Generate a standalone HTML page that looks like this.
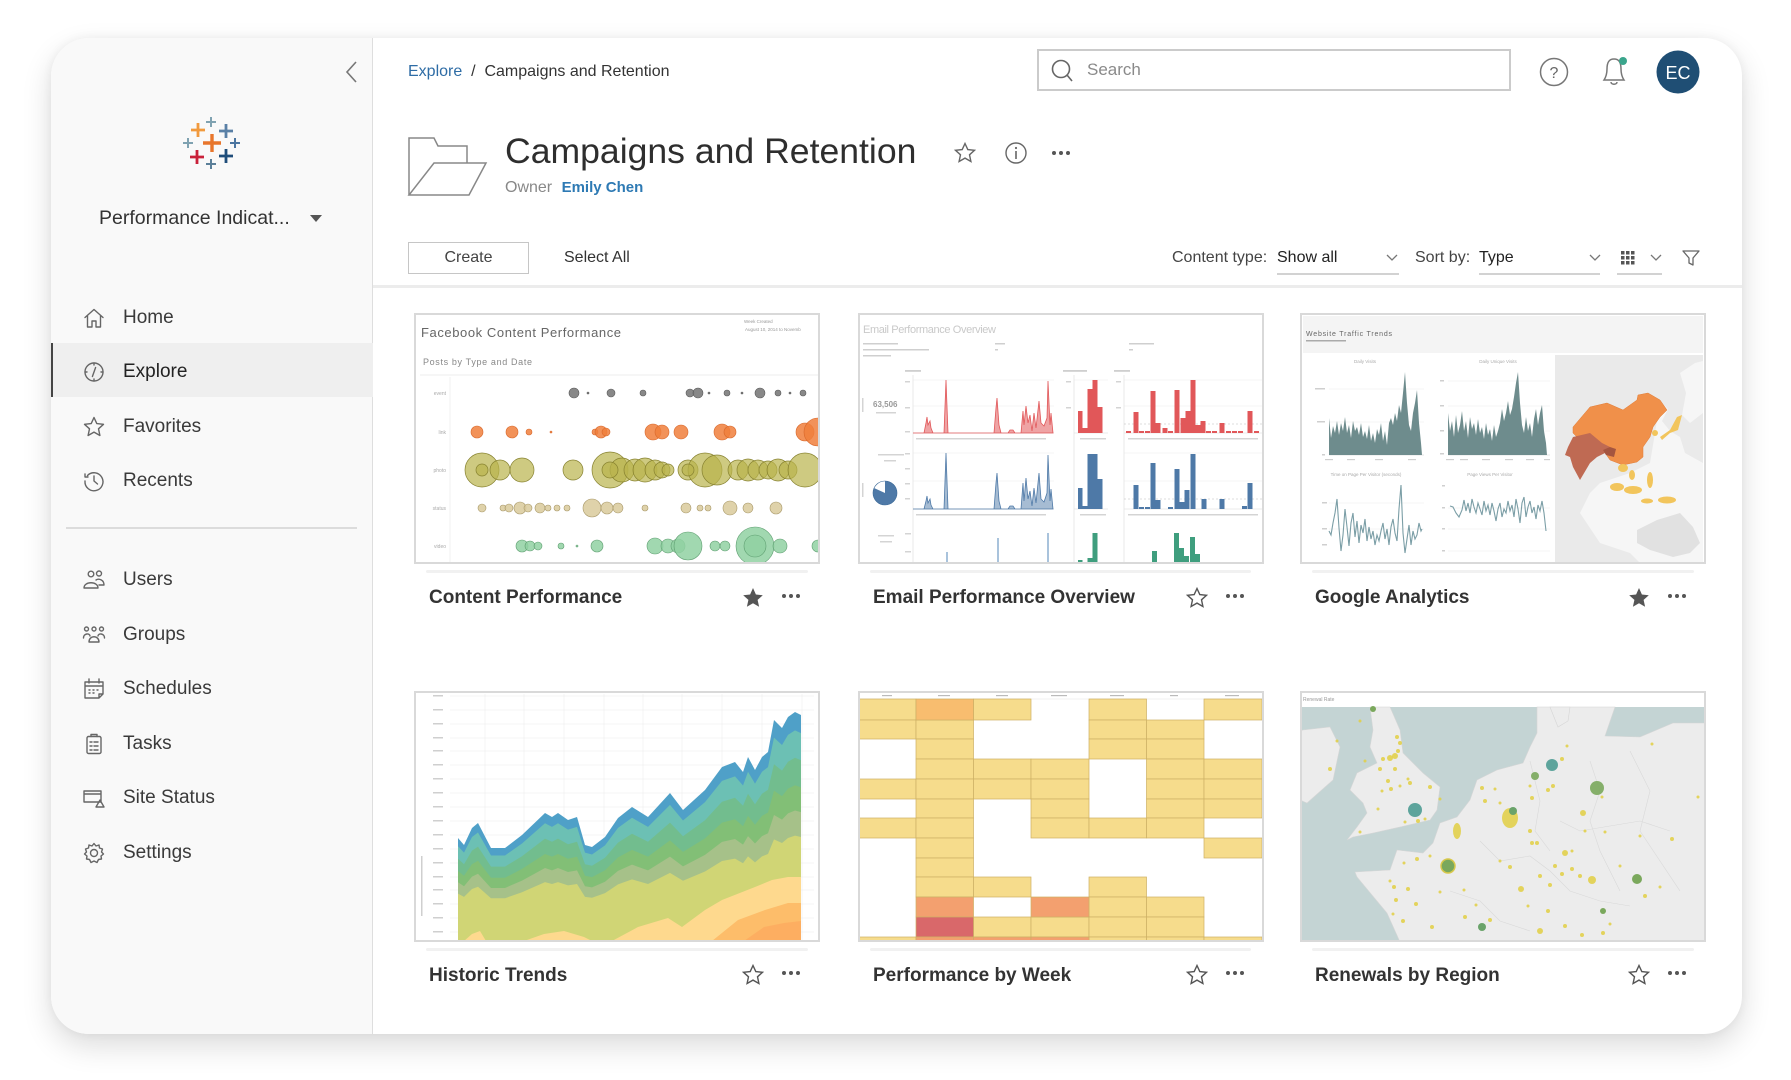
<!DOCTYPE html>
<html><head><meta charset="utf-8">
<style>
*{box-sizing:border-box;margin:0;padding:0}
body{width:1791px;height:1080px;overflow:hidden;background:#fff;font-family:"Liberation Sans",sans-serif;color:#333;position:relative}
.a{position:absolute;white-space:nowrap}
.card{position:absolute;left:51px;top:38px;width:1691px;height:996px;border-radius:38px;background:#fff;box-shadow:0 12px 30px rgba(0,0,0,.14),0 0 10px rgba(0,0,0,.05);overflow:hidden}
.nav{font-size:19px;line-height:24px;color:#3a3a3a;left:123px}
.ico{position:absolute;left:82px;width:24px;height:24px}
.ico *{fill:none;stroke:#666;stroke-width:1.4;stroke-linecap:round;stroke-linejoin:round}
.th{position:absolute;width:406px;height:251px}
.sh{position:absolute;height:3px;background:#f1f1f1;border-radius:2px}
.tt{font-size:19px;line-height:24px;font-weight:bold;color:#333}
.tb{font-size:16px;line-height:20px;color:#333}
</style></head><body>
<div class="card">
  <div style="position:absolute;left:0;top:0;width:322px;height:996px;background:#f9f9f9;border-right:1px solid #dedede"></div>
  <div style="position:absolute;left:0;top:305px;width:322px;height:54px;background:#efefef;border-left:2px solid #444"></div>
  <div style="position:absolute;left:15px;top:489px;width:291px;height:2px;background:#dcdcdc"></div>
  <div style="position:absolute;left:322px;top:247px;width:1369px;height:3px;background:#ececec"></div>
</div>

<!-- sidebar -->
<svg class="a" style="left:340px;top:58px" width="24" height="28"><polyline points="16,4 7,14 16,24" fill="none" stroke="#777" stroke-width="1.6"/></svg>
<svg class="a" style="left:183px;top:114px" width="58" height="58" viewBox="183 114 58 58">
<g stroke-linecap="butt">
<path d="M212 134v18M203 143h18" stroke="#e8762c" stroke-width="3.4"/>
<path d="M198 123v14M191 130h14" stroke="#f19a3e" stroke-width="2.8"/>
<path d="M226 124v14M219 131h14" stroke="#5a80a6" stroke-width="2.8"/>
<path d="M197 150v14M190 157h14" stroke="#c9213a" stroke-width="2.8"/>
<path d="M226 149v14M219 156h14" stroke="#1f4d7a" stroke-width="2.8"/>
<path d="M211 117v10M206 122h10" stroke="#7fa2b1" stroke-width="2"/>
<path d="M188 138v10M183 143h10" stroke="#7fa2b1" stroke-width="2"/>
<path d="M235 138v10M230 143h10" stroke="#4b75a0" stroke-width="2"/>
<path d="M211 159v10M206 164h10" stroke="#5b7f99" stroke-width="2"/>
</g></svg>
<div class="a" style="left:99px;top:206px;font-size:19.5px;line-height:24px;color:#333">Performance Indicat...</div>
<svg class="a" style="left:309px;top:214px" width="14" height="10"><polygon points="1,1 13,1 7,8" fill="#555"/></svg>

<svg class="ico" style="top:306px" viewBox="0 0 24 24"><path d="M3 11.5 L12 3.5 L21 11.5 M5.5 9.5 V21 H10 V15 H14 V21 H18.5 V9.5"/></svg>
<div class="a nav" style="top:306px">Home</div>
<svg class="ico" style="top:360px" viewBox="0 0 24 24"><circle cx="12" cy="12" r="9"/><path d="M13.6 7.5 L10.4 16.5 M12 3v2M12 19v2M3 12h2M19 12h2"/></svg>
<div class="a nav" style="top:360px;color:#222">Explore</div>
<svg class="ico" style="top:415px" viewBox="0 0 24 24"><polygon points="12,2.5 14.8,8.6 21.5,9.3 16.5,13.8 17.9,20.5 12,17.1 6.1,20.5 7.5,13.8 2.5,9.3 9.2,8.6"/></svg>
<div class="a nav" style="top:415px">Favorites</div>
<svg class="ico" style="top:469px" viewBox="0 0 24 24"><path d="M5.5 6.5 A9 9 0 1 1 3 12 M3 5 V8 H6 M12 7 V12 L15.5 15"/></svg>
<div class="a nav" style="top:469px">Recents</div>

<svg class="ico" style="top:568px" viewBox="0 0 24 24"><circle cx="9" cy="6" r="2.8"/><circle cx="17" cy="5.5" r="2.5"/><path d="M2 20 C2 13 16 13 16 20 Z M14 12 C17 10 22 12 22 17 H17"/></svg>
<div class="a nav" style="top:568px">Users</div>
<svg class="ico" style="top:623px" viewBox="0 0 24 24"><circle cx="4.5" cy="6" r="2"/><circle cx="12" cy="6" r="2"/><circle cx="19.5" cy="6" r="2"/><path d="M1.5 15 C1.5 10 8 10 8 13 M22.5 15 C22.5 10 16 10 16 13 M7 19 C7 12 17 12 17 19 Z"/></svg>
<div class="a nav" style="top:623px">Groups</div>
<svg class="ico" style="top:677px" viewBox="0 0 24 24"><path d="M3 5 H21 V17 L17 21 H3 Z M3 9 H21 M7 2 V6 M17 2 V6 M21 17 H17 V21"/><path d="M7 13h1M11 13h1M15 13h1M7 16h1M11 16h1" stroke-width="1.2"/></svg>
<div class="a nav" style="top:677px">Schedules</div>
<svg class="ico" style="top:732px" viewBox="0 0 24 24"><rect x="5" y="4.5" width="14" height="17" rx="1.5"/><path d="M9 4.5 V2.5 H15 V4.5 M8 10h2M12 10h4M8 14h2M12 14h4M8 18h2M12 18h4"/></svg>
<div class="a nav" style="top:732px">Tasks</div>
<svg class="ico" style="top:786px" viewBox="0 0 24 24"><path d="M2 5 H19 V16 H2 Z M2 8 H19 M18 14 L22 21 H14 Z"/></svg>
<div class="a nav" style="top:786px">Site Status</div>
<svg class="ico" style="top:841px" viewBox="0 0 24 24"><circle cx="12" cy="12" r="3.5"/><path d="M12 2.5 L14 5 L17 4 L17.5 7 L20.5 8 L19.5 11 L21.5 13 L19 15 L19.5 18 L16.5 18.5 L15 21.5 L12 20 L9 21.5 L7.5 18.5 L4.5 18 L5 15 L2.5 13 L4.5 11 L3.5 8 L6.5 7 L7 4 L10 5 Z"/></svg>
<div class="a nav" style="top:841px">Settings</div>

<!-- header -->
<div class="a" style="left:408px;top:62px;font-size:16px;line-height:20px;color:#333"><span style="color:#2e6ca5">Explore</span>&nbsp; / &nbsp;Campaigns and Retention</div>
<div class="a" style="left:1037px;top:49px;width:474px;height:42px;border:2px solid #cbcbcb;background:#fff"></div>
<svg class="a" style="left:1050px;top:58px" width="26" height="28"><circle cx="11" cy="11" r="8.5" fill="none" stroke="#666" stroke-width="1.6"/><line x1="17" y1="17" x2="22" y2="23" stroke="#666" stroke-width="1.6"/></svg>
<div class="a" style="left:1087px;top:60px;font-size:17px;line-height:20px;color:#8a8a8a">Search</div>
<svg class="a" style="left:1538px;top:56px" width="32" height="32"><circle cx="16" cy="16" r="13.5" fill="none" stroke="#777" stroke-width="1.5"/><text x="16" y="22" font-size="16" text-anchor="middle" fill="#666" font-family="Liberation Sans">?</text></svg>
<svg class="a" style="left:1598px;top:54px" width="32" height="34"><path d="M16 5 C10 5 9 10 9 15 C9 20 8 23 6 26 H26 C24 23 23 20 23 15 C23 10 22 5 16 5 Z M13 28 C13 31 19 31 19 28" fill="none" stroke="#777" stroke-width="1.5"/><circle cx="25" cy="7" r="4" fill="#3aa58c"/></svg>
<svg class="a" style="left:1656px;top:50px" width="44" height="44"><circle cx="22" cy="22" r="21.5" fill="#1f4e74"/><text x="22" y="29" font-size="18" text-anchor="middle" fill="#fff" font-family="Liberation Sans">EC</text></svg>

<svg class="a" style="left:405px;top:134px" width="86" height="66"><path d="M4 61 V4 H29 L33 12 H62 V30" fill="none" stroke="#888" stroke-width="1.5"/><polygon points="29,29 81,29 64,61 4,61" fill="#fff" stroke="#888" stroke-width="1.5"/></svg>
<div class="a" style="left:505px;top:131px;font-size:35.6px;line-height:40px;color:#2e2e2e">Campaigns and Retention</div>
<svg class="a" style="left:953px;top:141px" width="24" height="24"><polygon points="12,2.5 14.8,8.6 21.5,9.3 16.5,13.8 17.9,20.5 12,17.1 6.1,20.5 7.5,13.8 2.5,9.3 9.2,8.6" fill="none" stroke="#666" stroke-width="1.4"/></svg>
<svg class="a" style="left:1004px;top:141px" width="24" height="24"><circle cx="12" cy="12" r="10" fill="none" stroke="#666" stroke-width="1.4"/><line x1="12" y1="10" x2="12" y2="18" stroke="#666" stroke-width="1.6"/><circle cx="12" cy="7" r="1.1" fill="#666"/></svg>
<svg class="a" style="left:1050px;top:147px" width="24" height="12"><circle cx="4" cy="6" r="2" fill="#555"/><circle cx="11" cy="6" r="2" fill="#555"/><circle cx="18" cy="6" r="2" fill="#555"/></svg>
<div class="a" style="left:505px;top:178px;font-size:16px;line-height:20px;color:#888">Owner <span style="color:#2e7ab4;font-weight:bold;font-size:15px;margin-left:5px">Emily Chen</span></div>

<div class="a" style="left:408px;top:242px;width:121px;height:32px;border:1.5px solid #c6c6c6;background:#fff;text-align:center;font-size:16px;line-height:29px;color:#444">Create</div>
<div class="a tb" style="left:564px;top:248px">Select All</div>
<div class="a tb" style="left:1172px;top:248px;color:#444">Content type:</div>
<div class="a tb" style="left:1277px;top:248px;color:#222">Show all</div>
<svg class="a" style="left:1386px;top:253px" width="12" height="10"><polyline points="1,2 6,7 11,2" fill="none" stroke="#777" stroke-width="1.3"/></svg>
<div class="a" style="left:1277px;top:273px;width:122px;height:2px;background:#d2d2d2"></div>
<div class="a tb" style="left:1415px;top:248px;color:#444">Sort by:</div>
<div class="a tb" style="left:1479px;top:248px;color:#222">Type</div>
<svg class="a" style="left:1589px;top:253px" width="12" height="10"><polyline points="1,2 6,7 11,2" fill="none" stroke="#777" stroke-width="1.3"/></svg>
<div class="a" style="left:1479px;top:273px;width:121px;height:2px;background:#d2d2d2"></div>
<svg class="a" style="left:1621px;top:251px" width="14" height="14"><g fill="#555"><rect x="0" y="0" width="3.5" height="3.5"/><rect x="5" y="0" width="3.5" height="3.5"/><rect x="10" y="0" width="3.5" height="3.5"/><rect x="0" y="5" width="3.5" height="3.5"/><rect x="5" y="5" width="3.5" height="3.5"/><rect x="10" y="5" width="3.5" height="3.5"/><rect x="0" y="10" width="3.5" height="3.5"/><rect x="5" y="10" width="3.5" height="3.5"/><rect x="10" y="10" width="3.5" height="3.5"/></g></svg>
<svg class="a" style="left:1650px;top:253px" width="12" height="10"><polyline points="1,2 6,7 11,2" fill="none" stroke="#777" stroke-width="1.3"/></svg>
<div class="a" style="left:1617px;top:273px;width:45px;height:2px;background:#d2d2d2"></div>
<svg class="a" style="left:1682px;top:249px" width="18" height="18"><polygon points="1,2 17,2 11,9 11,16 7,14 7,9" fill="none" stroke="#666" stroke-width="1.3" stroke-linejoin="round"/></svg>

<!-- shadows under thumbnails -->
<div class="sh" style="left:426px;top:570px;width:382px"></div>
<div class="sh" style="left:870px;top:570px;width:381px"></div>
<div class="sh" style="left:1312px;top:570px;width:382px"></div>
<div class="sh" style="left:426px;top:948px;width:382px"></div>
<div class="sh" style="left:870px;top:948px;width:381px"></div>
<div class="sh" style="left:1312px;top:948px;width:382px"></div>

<!-- THUMB 1 -->
<svg class="th" style="left:414px;top:313px" viewBox="0 0 406 251" font-family="Liberation Sans">
<rect width="406" height="251" fill="#fff"/>
<text x="7" y="24" font-size="13" fill="#666" textLength="200">Facebook Content Performance</text>
<text x="330" y="10" font-size="4.5" fill="#999">Week Created</text>
<text x="331" y="18" font-size="4.5" fill="#999">August 10, 2014 to Novemb</text>
<text x="9" y="52" font-size="9" fill="#888" textLength="109">Posts by Type and Date</text>
<line x1="6" y1="62" x2="404" y2="62" stroke="#eee"/>
<line x1="36" y1="64" x2="36" y2="251" stroke="#f0f0f0"/>
<g font-size="5" fill="#aaa" text-anchor="end"><text x="32" y="82">event</text><text x="32" y="121">link</text><text x="32" y="159">photo</text><text x="32" y="197">status</text><text x="32" y="235">video</text></g>
<g fill="#7b7b7b" fill-opacity=".9" stroke="#5a5a5a" stroke-width=".6">
<circle cx="160" cy="80" r="5"/><circle cx="174" cy="80" r="1"/><circle cx="197" cy="80" r="4"/><circle cx="229" cy="80" r="3"/><circle cx="276" cy="80" r="4"/><circle cx="284" cy="80" r="5"/><circle cx="295" cy="80" r="1"/><circle cx="313" cy="80" r="3"/><circle cx="328" cy="80" r="1"/><circle cx="346" cy="80" r="5"/><circle cx="364" cy="80" r="3"/><circle cx="376" cy="80" r="1"/><circle cx="389" cy="80" r="3"/></g>
<g fill="#f07f3c" fill-opacity=".85" stroke="#d8672a" stroke-width=".6">
<circle cx="63" cy="119" r="6"/><circle cx="98" cy="119" r="6"/><circle cx="115" cy="119" r="3"/><circle cx="137" cy="119" r="1"/><circle cx="181" cy="119" r="3"/><circle cx="187" cy="119" r="6"/><circle cx="192" cy="119" r="4"/><circle cx="239" cy="119" r="8"/><circle cx="248" cy="119" r="7"/><circle cx="267" cy="119" r="7"/><circle cx="308" cy="119" r="8"/><circle cx="316" cy="119" r="6"/><circle cx="391" cy="119" r="9"/><circle cx="404" cy="119" r="14"/></g>
<g fill="#b9b34c" fill-opacity=".7" stroke="#878230" stroke-width=".7">
<circle cx="68" cy="157" r="17"/><circle cx="86" cy="157" r="10"/><circle cx="108" cy="157" r="12"/><circle cx="159" cy="157" r="10"/><circle cx="196" cy="157" r="18"/><circle cx="208" cy="157" r="12"/><circle cx="221" cy="157" r="11"/><circle cx="231" cy="157" r="12"/><circle cx="241" cy="157" r="10"/><circle cx="248" cy="157" r="8"/><circle cx="254" cy="157" r="6"/><circle cx="274" cy="157" r="10"/><circle cx="291" cy="157" r="17"/><circle cx="303" cy="157" r="15"/><circle cx="324" cy="157" r="10"/><circle cx="334" cy="157" r="11"/><circle cx="344" cy="157" r="10"/><circle cx="354" cy="157" r="9"/><circle cx="364" cy="157" r="11"/><circle cx="374" cy="157" r="9"/><circle cx="391" cy="157" r="17"/><circle cx="68" cy="157" r="6"/><circle cx="196" cy="157" r="8"/><circle cx="274" cy="157" r="6"/></g>
<g fill="#d9ca9b" fill-opacity=".85" stroke="#a89868" stroke-width=".6">
<circle cx="68" cy="195" r="4"/><circle cx="89" cy="195" r="3"/><circle cx="95" cy="195" r="4"/><circle cx="106" cy="195" r="6"/><circle cx="114" cy="195" r="4"/><circle cx="126" cy="195" r="5"/><circle cx="134" cy="195" r="3"/><circle cx="143" cy="195" r="3"/><circle cx="153" cy="195" r="3"/><circle cx="178" cy="195" r="9"/><circle cx="193" cy="195" r="6"/><circle cx="204" cy="195" r="5"/><circle cx="231" cy="195" r="3"/><circle cx="272" cy="195" r="5"/><circle cx="286" cy="195" r="3"/><circle cx="294" cy="195" r="3"/><circle cx="316" cy="195" r="7"/><circle cx="334" cy="195" r="5"/><circle cx="362" cy="195" r="6"/></g>
<g fill="#91d1a2" fill-opacity=".85" stroke="#5e9e70" stroke-width=".6">
<circle cx="108" cy="233" r="6"/><circle cx="116" cy="233" r="5"/><circle cx="124" cy="233" r="4"/><circle cx="147" cy="233" r="3"/><circle cx="163" cy="233" r="1"/><circle cx="183" cy="233" r="6"/><circle cx="241" cy="233" r="8"/><circle cx="254" cy="233" r="7"/><circle cx="264" cy="233" r="7"/><circle cx="274" cy="233" r="14"/><circle cx="301" cy="233" r="5"/><circle cx="311" cy="233" r="5"/><circle cx="341" cy="233" r="19"/><circle cx="341" cy="233" r="11"/><circle cx="366" cy="233" r="7"/><circle cx="404" cy="233" r="6"/></g>
<rect x="1" y="1" width="404" height="249" fill="none" stroke="#d9d9d9" stroke-width="2"/>
</svg>

<!-- THUMB 2 -->
<svg class="th" style="left:858px;top:313px" viewBox="0 0 406 251" font-family="Liberation Sans">
<rect width="406" height="251" fill="#fff"/>
<text x="5" y="20" font-size="11" fill="#c9c9c9" textLength="133">Email Performance Overview</text>
<g fill="#cfcfcf"><rect x="5" y="30" width="35" height="1.5"/><rect x="5" y="36" width="66" height="1.5"/><rect x="5" y="42" width="28" height="1.5"/><rect x="137" y="30" width="10" height="1.5"/><rect x="137" y="36" width="3" height="1.5"/><rect x="271" y="30" width="25" height="1.5"/><rect x="271" y="36" width="4" height="1.5"/>
<rect x="47" y="57" width="16" height="1.8"/><rect x="205" y="57" width="24" height="1.8"/><rect x="256" y="57" width="16" height="1.8"/></g>
<g stroke="#f0f0f0" stroke-width=".7"><line x1="55" y1="67" x2="196" y2="67"/><line x1="55" y1="93" x2="196" y2="93"/><line x1="216" y1="67" x2="250" y2="67"/><line x1="266" y1="67" x2="404" y2="67"/><line x1="266" y1="93" x2="404" y2="93"/>
<line x1="55" y1="140" x2="196" y2="140"/><line x1="55" y1="168" x2="196" y2="168"/><line x1="266" y1="140" x2="404" y2="140"/><line x1="266" y1="168" x2="404" y2="168"/></g>
<g stroke="#e4e4e4" stroke-width=".8"><line x1="55" y1="120" x2="196" y2="120"/><line x1="216" y1="120" x2="250" y2="120"/><line x1="266" y1="120" x2="404" y2="120"/><line x1="55" y1="196" x2="196" y2="196"/><line x1="216" y1="196" x2="250" y2="196"/><line x1="266" y1="196" x2="404" y2="196"/><line x1="55" y1="62" x2="55" y2="251"/><line x1="216" y1="62" x2="216" y2="251"/><line x1="266" y1="62" x2="266" y2="251"/></g>
<g fill="#d4d4d4"><rect x="47" y="68" width="5" height="1.5"/><rect x="47" y="94" width="5" height="1.5"/><rect x="47" y="118" width="5" height="1.5"/><rect x="208" y="68" width="5" height="1.5"/><rect x="208" y="94" width="5" height="1.5"/><rect x="258" y="68" width="5" height="1.5"/><rect x="258" y="94" width="5" height="1.5"/>
<rect x="58" y="125" width="130" height="1.5"/><rect x="222" y="125" width="26" height="1.5"/><rect x="270" y="125" width="130" height="1.5"/>
<rect x="58" y="201" width="130" height="1.5"/><rect x="222" y="201" width="26" height="1.5"/><rect x="270" y="201" width="130" height="1.5"/>
<rect x="47" y="140" width="5" height="1.5"/><rect x="47" y="155" width="5" height="1.5"/><rect x="47" y="170" width="5" height="1.5"/><rect x="47" y="185" width="5" height="1.5"/><rect x="47" y="220" width="6" height="1.5"/><rect x="47" y="238" width="6" height="1.5"/>
<rect x="20" y="141" width="26" height="1.5"/><rect x="26" y="147" width="12" height="1.5"/><rect x="20" y="222" width="16" height="1.5"/><rect x="22" y="228" width="12" height="1.5"/><rect x="18" y="99" width="20" height="1.5"/><rect x="4" y="85" width="1.5" height="14"/><rect x="4" y="170" width="1.5" height="14"/></g>
<text x="15" y="94" font-size="8" fill="#999" font-weight="bold">63,506</text>
<path d="M55 120 H66 L68 110 L69 104 L70 112 L72 108 L73 115 L75 120 H86 L88 67 L90 120 H136 L138 95 L139 85 L141 112 L143 120 H150 L152 117 L155 117 L157 120 H163 L165 98 L166 112 L168 93 L170 110 L172 102 L174 118 L176 100 L178 115 L181 88 L183 110 L186 113 L189 105 L190 68 L192 112 L193 100 L195 120 Z" fill="#e15759" fill-opacity=".55" stroke="#e15759" stroke-width=".8"/>
<path d="M55 196 H66 L68 188 L69 183 L70 190 L72 186 L73 192 L75 196 H86 L88 140 L90 196 H136 L138 170 L139 160 L141 188 L143 196 H150 L152 193 L155 193 L157 196 H163 L165 170 L166 188 L168 165 L170 186 L172 178 L174 193 L176 175 L178 190 L181 160 L183 186 L186 189 L189 180 L190 142 L192 188 L193 176 L195 196 Z" fill="#4e79a7" fill-opacity=".5" stroke="#4e79a7" stroke-width=".8"/>
<line x1="266" y1="111" x2="404" y2="111" stroke="#bbb" stroke-width=".6" stroke-dasharray="2,2"/>
<line x1="266" y1="186" x2="404" y2="186" stroke="#bbb" stroke-width=".6" stroke-dasharray="2,2"/>
<g fill="#e15759"><rect x="220" y="98" width="4.5" height="22"/><rect x="224.5" y="115" width="5" height="5"/><rect x="229.5" y="76" width="5" height="44"/><rect x="234.5" y="67" width="5" height="53"/><rect x="239.5" y="94" width="5" height="26"/>
<rect x="275.5" y="99" width="5" height="21"/><rect x="292.5" y="78" width="5" height="42"/><rect x="297.5" y="110" width="5" height="10"/><rect x="304.5" y="115" width="5" height="5"/><rect x="316.5" y="77" width="5" height="43"/><rect x="322.5" y="105" width="5" height="15"/><rect x="327.5" y="98" width="5" height="22"/><rect x="332.5" y="67" width="5" height="53"/><rect x="337.5" y="112" width="5" height="8"/><rect x="342.5" y="108" width="5" height="12"/><rect x="361.5" y="110" width="5" height="10"/><rect x="389.5" y="98" width="5" height="22"/>
<rect x="268" y="118" width="5" height="2"/><rect x="281" y="118" width="5" height="2"/><rect x="287" y="118" width="5" height="2"/><rect x="310" y="118" width="5" height="2"/><rect x="348" y="118" width="5" height="2"/><rect x="354" y="118" width="5" height="2"/><rect x="368" y="118" width="5" height="2"/><rect x="374" y="118" width="5" height="2"/><rect x="380" y="118" width="5" height="2"/><rect x="396" y="118" width="5" height="2"/></g>
<g fill="#4e79a7"><rect x="220" y="175" width="4.5" height="21"/><rect x="224.5" y="193" width="5" height="3"/><rect x="229.5" y="141" width="5" height="55"/><rect x="234.5" y="141" width="5" height="55"/><rect x="239.5" y="166" width="5" height="30"/>
<rect x="275.5" y="172" width="5" height="24"/><rect x="292.5" y="150" width="5" height="46"/><rect x="297.5" y="187" width="5" height="9"/><rect x="316.5" y="156" width="5" height="40"/><rect x="321.5" y="189" width="5" height="7"/><rect x="326.5" y="177" width="5" height="19"/><rect x="332.5" y="141" width="5" height="55"/><rect x="343.5" y="186" width="5" height="10"/><rect x="361.5" y="186" width="5" height="10"/><rect x="389.5" y="170" width="5" height="26"/>
<rect x="281" y="194" width="5" height="2"/><rect x="287" y="194" width="5" height="2"/><rect x="310" y="194" width="5" height="2"/><rect x="384" y="193" width="5" height="3"/></g>
<circle cx="27" cy="180" r="12" fill="#4e79a7"/><path d="M27 180 L27 168 A12 12 0 0 0 16 175 Z" fill="#fff"/><circle cx="27" cy="180" r="12" fill="none" stroke="#3d6a98" stroke-width=".6"/>
<g fill="#a9c3dc"><rect x="88" y="239" width="2" height="12"/><rect x="139" y="225" width="2" height="26"/><rect x="189" y="220" width="2" height="31"/><rect x="28" y="249" width="6" height="2"/></g>
<g fill="#3f9e7e"><rect x="220" y="247" width="4.5" height="4"/><rect x="229.5" y="245" width="5" height="6"/><rect x="234.5" y="220" width="5" height="31"/>
<rect x="294" y="238" width="5" height="13"/><rect x="316" y="220" width="5" height="31"/><rect x="321" y="235" width="5" height="16"/><rect x="326" y="243" width="5" height="8"/><rect x="332" y="224" width="5" height="27"/><rect x="337" y="241" width="5" height="10"/></g>
<rect x="1" y="1" width="404" height="249" fill="none" stroke="#d9d9d9" stroke-width="2"/>
</svg>

<!-- THUMB 3 -->
<svg class="th" style="left:1300px;top:313px" viewBox="0 0 406 251" font-family="Liberation Sans">
<rect width="406" height="251" fill="#fff"/>
<rect x="3" y="3" width="400" height="37" fill="#f4f4f4"/>
<text x="6" y="23" font-size="7" fill="#666" textLength="86">Website Traffic Trends</text>
<rect x="6" y="27" width="40" height="1.5" fill="#aaa"/>
<g font-size="4.5" fill="#aaa" text-anchor="middle"><text x="65" y="50">Daily Visits</text><text x="198" y="50">Daily Unique Visits</text><text x="66" y="163">Time on Page Per Visitor (seconds)</text><text x="190" y="163">Page Views Per Visitor</text></g>
<g stroke="#f0f0f0" stroke-width=".7"><line x1="29" y1="76" x2="124" y2="76"/><line x1="29" y1="109" x2="124" y2="109"/><line x1="148" y1="68" x2="250" y2="68"/><line x1="148" y1="93" x2="250" y2="93"/><line x1="148" y1="118" x2="250" y2="118"/><line x1="29" y1="190" x2="124" y2="190"/><line x1="29" y1="216" x2="124" y2="216"/><line x1="148" y1="195" x2="250" y2="195"/><line x1="148" y1="216" x2="250" y2="216"/><line x1="148" y1="238" x2="250" y2="238"/></g>
<g fill="#cfcfcf"><rect x="15" y="75" width="10" height="1.5"/><rect x="17" y="108" width="8" height="1.5"/><rect x="22" y="141" width="3" height="1.5"/><rect x="140" y="67" width="4" height="1.5"/><rect x="140" y="92" width="4" height="1.5"/><rect x="140" y="117" width="4" height="1.5"/><rect x="140" y="140" width="4" height="1.5"/>
<rect x="22" y="189" width="5" height="1.5"/><rect x="22" y="215" width="5" height="1.5"/><rect x="22" y="231" width="5" height="1.5"/><rect x="142" y="172" width="3" height="1.5"/><rect x="142" y="194" width="3" height="1.5"/><rect x="142" y="215" width="3" height="1.5"/><rect x="142" y="237" width="3" height="1.5"/>
<rect x="25" y="146" width="8" height="1.2"/><rect x="47" y="146" width="8" height="1.2"/><rect x="75" y="146" width="8" height="1.2"/><rect x="108" y="146" width="8" height="1.2"/><rect x="146" y="146" width="8" height="1.2"/><rect x="160" y="146" width="8" height="1.2"/><rect x="182" y="146" width="8" height="1.2"/><rect x="205" y="146" width="8" height="1.2"/><rect x="226" y="146" width="8" height="1.2"/><rect x="244" y="146" width="6" height="1.2"/></g>
<line x1="29" y1="142" x2="124" y2="142" stroke="#ccc" stroke-width=".6"/><line x1="148" y1="142" x2="250" y2="142" stroke="#ccc" stroke-width=".6"/>
<path d="M29,142 L29,105 L31,125 L33,113 L35,120 L37,108 L39,122 L41,110 L43,118 L45,104 L47,120 L49,112 L51,125 L53,108 L55,118 L57,114 L59,122 L61,110 L63,124 L65,118 L67,126 L69,112 L71,128 L73,120 L75,130 L77,116 L79,122 L81,110 L83,128 L85,118 L87,132 L89,110 L91,105 L93,112 L95,100 L97,108 L99,92 L101,100 L103,80 L105,59 L107,90 L109,112 L111,118 L113,100 L115,90 L117,77 L119,110 L121,130 L122,142 Z" fill="#6e8c8d"/>
<path d="M148,142 L148,100 L150,118 L152,108 L154,124 L156,102 L158,120 L160,112 L162,98 L164,118 L166,108 L168,125 L170,104 L172,116 L174,110 L176,122 L178,106 L180,120 L182,114 L184,126 L186,110 L188,122 L190,116 L192,128 L194,112 L196,124 L198,118 L200,110 L202,96 L204,108 L206,100 L208,88 L210,102 L212,96 L214,84 L216,70 L218,59 L220,90 L222,112 L224,120 L226,104 L228,118 L230,110 L232,124 L234,106 L236,96 L238,112 L240,100 L242,92 L244,118 L246,130 L247,142 Z" fill="#6e8c8d"/>
<polyline points="29,218 31,222 33,210 35,200 37,186 39,215 41,238 43,222 45,196 47,214 49,233 51,210 53,200 55,224 57,208 59,230 61,212 63,220 65,206 67,228 69,214 71,226 73,218 75,232 77,222 79,228 81,218 83,210 85,226 87,216 89,232 91,214 93,206 95,220 97,228 99,196 101,172 103,220 105,240 107,226 109,212 111,232 113,218 115,226 117,222 119,210 121,218 122,216" fill="none" stroke="#7b9ea6" stroke-width="1.1"/>
<polyline points="150,193 153,194 156,200 159,204 162,197 164,187 166,198 168,190 170,200 172,186 174,194 176,200 178,190 180,196 182,202 184,188 186,198 188,192 190,202 192,190 194,198 196,208 198,196 200,190 202,204 204,196 206,200 208,188 210,198 212,192 214,204 216,186 218,196 220,210 222,190 224,184 226,204 228,194 230,188 232,200 234,194 236,206 238,192 240,198 242,188 244,200 246,218" fill="none" stroke="#7b9ea6" stroke-width="1.1"/>
<rect x="255" y="42" width="148" height="208" fill="#eaeaea"/>
<path d="M360 88 L368 96 L362 108 L370 118 L380 124 L385 140 L403 150 L403 250 L340 250 L330 240 L300 230 L280 200 L290 180 L300 170 L330 160 L350 150 L355 120 Z" fill="#f6f6f6"/>
<path d="M380 60 L395 50 L403 48 L403 100 L390 110 L382 102 L386 80 Z" fill="#f6f6f6"/>
<polygon points="337,217 357,207 380,200 393,214 400,230 390,240 373,244 350,237 337,230" fill="#e1e1e1"/>
<polygon points="273,114 290,94 307,90 323,97 337,87 338,82 348,80 360,87 367,97 360,104 353,114 350,124 343,134 343,144 337,149 323,152 310,147 303,137 290,134 280,127 273,120" fill="#f0904a" stroke="#e07c36" stroke-width=".5"/>
<polygon points="273,124 290,120 302,130 310,134 305,140 297,144 290,150 280,167 273,154 270,144 265,142 268,134" fill="#bf6a53"/>
<polygon points="303,137 310,134 316,136 314,144 306,142" fill="#a5553f"/>
<g fill="#f2c55c"><polygon points="377,104 382,102 378,117 370,120 362,127 360,124 370,117"/><ellipse cx="323" cy="155" rx="5" ry="4"/><ellipse cx="317" cy="174" rx="7" ry="4"/><ellipse cx="333" cy="177" rx="9" ry="4"/><ellipse cx="350" cy="167" rx="3" ry="8"/><ellipse cx="367" cy="187" rx="9" ry="3.5"/><ellipse cx="347" cy="188" rx="6" ry="2.5"/><ellipse cx="355" cy="120" rx="3" ry="3"/><ellipse cx="332" cy="162" rx="3" ry="5"/></g>
<rect x="1" y="1" width="404" height="249" fill="none" stroke="#d9d9d9" stroke-width="2"/>
</svg>

<!-- THUMB 4 -->
<svg class="th" style="left:414px;top:691px" viewBox="0 0 406 251" font-family="Liberation Sans">
<rect width="406" height="251" fill="#fff"/>
<g stroke="#f2f2f2" stroke-width=".8"><line x1="36" y1="5" x2="400" y2="5"/><line x1="36" y1="19" x2="400" y2="19"/><line x1="36" y1="33" x2="400" y2="33"/><line x1="36" y1="47" x2="400" y2="47"/><line x1="36" y1="60" x2="400" y2="60"/><line x1="36" y1="74" x2="400" y2="74"/><line x1="36" y1="88" x2="400" y2="88"/><line x1="36" y1="102" x2="400" y2="102"/><line x1="36" y1="116" x2="400" y2="116"/><line x1="36" y1="130" x2="400" y2="130"/><line x1="36" y1="144" x2="400" y2="144"/><line x1="36" y1="158" x2="400" y2="158"/><line x1="36" y1="172" x2="400" y2="172"/><line x1="36" y1="186" x2="400" y2="186"/><line x1="36" y1="199" x2="400" y2="199"/><line x1="36" y1="213" x2="400" y2="213"/><line x1="36" y1="227" x2="400" y2="227"/><line x1="36" y1="241" x2="400" y2="241"/>
<line x1="71" y1="3" x2="71" y2="250"/><line x1="110" y1="3" x2="110" y2="250"/><line x1="150" y1="3" x2="150" y2="250"/><line x1="190" y1="3" x2="190" y2="250"/><line x1="229" y1="3" x2="229" y2="250"/><line x1="268" y1="3" x2="268" y2="250"/><line x1="308" y1="3" x2="308" y2="250"/><line x1="348" y1="3" x2="348" y2="250"/><line x1="388" y1="3" x2="388" y2="250"/></g>
<g fill="#cfcfcf"><rect x="19" y="4" width="10" height="1.5"/><rect x="19" y="18" width="10" height="1.5"/><rect x="19" y="32" width="10" height="1.5"/><rect x="19" y="46" width="10" height="1.5"/><rect x="19" y="59" width="10" height="1.5"/><rect x="19" y="73" width="10" height="1.5"/><rect x="19" y="87" width="10" height="1.5"/><rect x="19" y="101" width="10" height="1.5"/><rect x="19" y="115" width="10" height="1.5"/><rect x="19" y="129" width="10" height="1.5"/><rect x="19" y="143" width="10" height="1.5"/><rect x="19" y="157" width="10" height="1.5"/><rect x="19" y="171" width="10" height="1.5"/><rect x="19" y="185" width="10" height="1.5"/><rect x="19" y="198" width="10" height="1.5"/><rect x="19" y="212" width="10" height="1.5"/><rect x="19" y="226" width="10" height="1.5"/><rect x="19" y="240" width="10" height="1.5"/><rect x="7" y="165" width="1.5" height="60"/></g>
<defs><path id="ar" d="M44,250 L44,147 L50,154 L58,137 L64,132 L77,157 L91,157 L108,144 L131,122 L138,126 L144,122 L154,129 L163,126 L171,154 L178,156 L191,146 L204,127 L218,116 L234,126 L256,102 L269,119 L291,99 L308,76 L321,71 L329,81 L334,66 L341,79 L348,66 L354,61 L360,29 L368,37 L374,26 L381,21 L387,24 L387,250 Z"/></defs>
<use href="#ar" fill="#4fa0c8"/>
<use href="#ar" fill="#6cc0b4" transform="translate(0,250) scale(1,.92) translate(0,-250)"/>
<use href="#ar" fill="#72bd8e" transform="translate(0,250) scale(1,.8) translate(0,-250)"/>
<use href="#ar" fill="#82bf76" transform="translate(0,250) scale(1,.68) translate(0,-250)"/>
<use href="#ar" fill="#a6c189" transform="translate(0,250) scale(1,.57) translate(0,-250)"/>
<use href="#ar" fill="#d0d575" transform="translate(0,250) scale(1,.46) translate(0,-250)"/>
<path d="M198,250 L224,236 L254,227 L268,236 L291,219 L308,209 L341,196 L358,189 L374,186 L387,186 L387,250 Z" fill="#fed98e"/>
<path d="M298,250 L324,229 L351,219 L374,212 L387,212 L387,250 Z" fill="#fdbd6a"/>
<path d="M330,250 L350,236 L370,232 L387,230 L387,250 Z" fill="#fdae61"/>
<path d="M50,250 L58,243 L66,240 L72,250 Z M110,250 L130,243 L150,240 L170,246 L178,250 Z" fill="#fed98e"/>
<rect x="1" y="1" width="404" height="249" fill="none" stroke="#d9d9d9" stroke-width="2"/>
</svg>

<!-- THUMB 5 -->
<svg class="th" style="left:858px;top:691px" viewBox="0 0 406 251" font-family="Liberation Sans">
<rect width="406" height="251" fill="#fff"/>
<g fill="#bbb"><rect x="24" y="4" width="10" height="1.2"/><rect x="80" y="4" width="12" height="1.2"/><rect x="138" y="4" width="12" height="1.2"/><rect x="193" y="4" width="16" height="1.2"/><rect x="252" y="4" width="14" height="1.2"/><rect x="312" y="4" width="8" height="1.2"/><rect x="367" y="4" width="14" height="1.2"/></g>
<line x1="0" y1="8" x2="406" y2="8" stroke="#e6e6e6" stroke-width=".6"/>
<g fill="#f6dc8c" stroke="#cdb064" stroke-width=".7">
<rect x="0" y="8" width="58" height="21"/><rect x="115.5" y="8" width="57.5" height="21"/><rect x="231" y="8" width="57.5" height="21"/><rect x="346" y="8" width="58" height="21"/>
<rect x="0" y="29" width="58" height="19"/><rect x="58" y="29" width="57.5" height="19"/><rect x="231" y="29" width="57.5" height="19"/><rect x="288.5" y="29" width="57.5" height="19"/>
<rect x="58" y="48" width="57.5" height="20"/><rect x="231" y="48" width="57.5" height="20"/><rect x="288.5" y="48" width="57.5" height="20"/>
<rect x="58" y="68" width="57.5" height="20"/><rect x="115.5" y="68" width="57.5" height="20"/><rect x="173" y="68" width="58" height="20"/><rect x="288.5" y="68" width="57.5" height="20"/><rect x="346" y="68" width="58" height="20"/>
<rect x="0" y="88" width="58" height="20"/><rect x="58" y="88" width="57.5" height="20"/><rect x="115.5" y="88" width="57.5" height="20"/><rect x="173" y="88" width="58" height="20"/><rect x="288.5" y="88" width="57.5" height="20"/><rect x="346" y="88" width="58" height="20"/>
<rect x="58" y="108" width="57.5" height="19"/><rect x="173" y="108" width="58" height="19"/><rect x="288.5" y="108" width="57.5" height="19"/><rect x="346" y="108" width="58" height="19"/>
<rect x="0" y="127" width="58" height="20"/><rect x="58" y="127" width="57.5" height="20"/><rect x="173" y="127" width="58" height="20"/><rect x="231" y="127" width="57.5" height="20"/><rect x="288.5" y="127" width="57.5" height="20"/>
<rect x="58" y="147" width="57.5" height="20"/><rect x="346" y="147" width="58" height="20"/>
<rect x="58" y="167" width="57.5" height="19"/>
<rect x="58" y="186" width="57.5" height="20"/><rect x="115.5" y="186" width="57.5" height="20"/><rect x="231" y="186" width="57.5" height="20"/>
<rect x="231" y="206" width="57.5" height="20"/><rect x="288.5" y="206" width="57.5" height="20"/>
<rect x="115.5" y="226" width="57.5" height="20"/><rect x="173" y="226" width="58" height="20"/><rect x="231" y="226" width="57.5" height="20"/><rect x="288.5" y="226" width="57.5" height="20"/>
<rect x="0" y="246" width="58" height="6"/><rect x="231" y="246" width="57.5" height="6"/><rect x="288.5" y="246" width="57.5" height="6"/><rect x="346" y="246" width="58" height="6"/>
</g>
<g stroke="#cdb064" stroke-width=".7">
<rect x="58" y="8" width="57.5" height="21" fill="#f8bd6f"/>
<rect x="58" y="206" width="57.5" height="20" fill="#f3a06f"/><rect x="173" y="206" width="58" height="20" fill="#f3a06f"/>
<rect x="58" y="226" width="57.5" height="20" fill="#d9686a"/>
<rect x="58" y="246" width="57.5" height="6" fill="#f3a06f"/><rect x="115.5" y="246" width="57.5" height="6" fill="#f3a06f"/><rect x="173" y="246" width="58" height="6" fill="#f3a06f"/>
</g>
<rect x="1" y="1" width="404" height="249" fill="none" stroke="#d9d9d9" stroke-width="2"/>
</svg>

<!-- THUMB 6 -->
<svg class="th" style="left:1300px;top:691px" viewBox="0 0 406 251" font-family="Liberation Sans">
<rect width="406" height="251" fill="#fff"/>
<text x="3" y="10" font-size="5" fill="#999">Renewal Rate</text>
<rect x="0" y="16" width="406" height="235" fill="#c4d4d4"/>
<g fill="#ececec" stroke="#d6d6d6" stroke-width=".6">
<polygon points="100,251 87,222 57,186 55,181 90,179 97,159 123,162 133,152 140,132 157,126 170,109 177,89 197,79 223,72 230,56 237,42 237,16 315,16 305,45 340,46 373,32 406,32 406,251"/>
<polygon points="70,16 90,16 100,39 103,62 123,82 140,96 137,119 130,129 100,136 73,142 53,146 47,149 57,136 67,122 63,112 50,99 57,82 77,72 70,56 73,39"/>
<polygon points="0,40 3,39 30,36 40,56 33,89 7,112 0,109"/>
<polygon points="250,16 270,16 268,30 258,36"/>
</g>
<g fill="none" stroke="#d9d9d9" stroke-width=".6"><polyline points="180,150 200,170 230,165 250,180 270,200 300,210 330,215"/><polyline points="230,70 240,110 235,140 250,160"/><polyline points="290,70 300,100 290,130 300,160 320,200"/><polyline points="330,60 350,100 340,140 360,170 380,200"/><polyline points="260,130 280,140 310,135 340,130 370,140"/><polyline points="150,200 180,210 200,230 230,240"/></g>
<g fill="#e2cf43" fill-opacity=".85">
<circle cx="97" cy="46" r="2"/><circle cx="100" cy="52" r="2"/><circle cx="83" cy="68" r="2"/><circle cx="90" cy="67" r="3"/><circle cx="95" cy="65" r="3"/><circle cx="98" cy="60" r="2"/><circle cx="80" cy="78" r="2"/><circle cx="95" cy="78" r="2"/><circle cx="88" cy="90" r="2"/><circle cx="100" cy="95" r="1.5"/><circle cx="91" cy="98" r="2"/><circle cx="82" cy="100" r="1.5"/><circle cx="110" cy="92" r="2"/><circle cx="130" cy="96" r="2"/><circle cx="140" cy="108" r="1.5"/><circle cx="118" cy="130" r="2"/><circle cx="105" cy="131" r="1.5"/><circle cx="125" cy="128" r="1.5"/><circle cx="60" cy="141" r="1.5"/><circle cx="30" cy="78" r="2"/><circle cx="108" cy="88" r="1.5"/><circle cx="78" cy="118" r="1.5"/><circle cx="65" cy="70" r="1.5"/>
<circle cx="182" cy="97" r="2"/><circle cx="195" cy="98" r="1.5"/><circle cx="185" cy="110" r="2"/><circle cx="200" cy="112" r="1.5"/><circle cx="212" cy="120" r="3"/><ellipse cx="210" cy="127" rx="8" ry="10"/><ellipse cx="157" cy="140" rx="4" ry="8"/><circle cx="230" cy="95" r="1.5"/><circle cx="253" cy="95" r="2"/><circle cx="248" cy="99" r="2"/><circle cx="232" cy="107" r="2"/><circle cx="283" cy="122" r="3"/><circle cx="302" cy="106" r="1.5"/><circle cx="230" cy="140" r="2"/><circle cx="232" cy="152" r="2"/><circle cx="237" cy="152" r="2"/><circle cx="265" cy="162" r="3"/><circle cx="255" cy="175" r="2"/><circle cx="272" cy="178" r="2"/><circle cx="292" cy="189" r="4"/><circle cx="280" cy="185" r="2"/><circle cx="262" cy="183" r="2"/><circle cx="240" cy="185" r="2"/><circle cx="250" cy="194" r="2"/><circle cx="221" cy="198" r="3"/><circle cx="210" cy="176" r="2"/><circle cx="200" cy="170" r="1.5"/><circle cx="117" cy="168" r="2"/><circle cx="130" cy="165" r="1.5"/><circle cx="104" cy="172" r="1.5"/><circle cx="90" cy="190" r="1.5"/><circle cx="94" cy="196" r="2"/><circle cx="108" cy="198" r="2"/><circle cx="96" cy="209" r="2"/><circle cx="116" cy="213" r="2"/><circle cx="140" cy="201" r="1.5"/><circle cx="93" cy="223" r="1.5"/><circle cx="103" cy="230" r="2"/><circle cx="132" cy="236" r="2"/><circle cx="165" cy="226" r="2"/><circle cx="190" cy="229" r="2"/><circle cx="240" cy="240" r="3"/><circle cx="265" cy="235" r="2"/><circle cx="282" cy="244" r="2"/><circle cx="303" cy="242" r="2"/><circle cx="310" cy="233" r="1.5"/><circle cx="345" cy="205" r="2"/><circle cx="360" cy="196" r="1.5"/><circle cx="372" cy="148" r="2"/><circle cx="340" cy="145" r="1.5"/><circle cx="305" cy="141" r="1.5"/><circle cx="320" cy="175" r="1.5"/><circle cx="262" cy="68" r="2"/><circle cx="267" cy="55" r="1.5"/><circle cx="352" cy="53" r="1.5"/><circle cx="398" cy="106" r="1.5"/><circle cx="272" cy="160" r="1.5"/><circle cx="285" cy="140" r="1.5"/><circle cx="164" cy="199" r="1.5"/><circle cx="176" cy="214" r="1.5"/><circle cx="60" cy="30" r="1.5"/><circle cx="37" cy="50" r="1.5"/><circle cx="248" cy="220" r="2"/><circle cx="228" cy="215" r="1.5"/></g>
<circle cx="115" cy="119" r="7" fill="#4e9c94" fill-opacity=".9"/>
<circle cx="252" cy="74" r="6" fill="#4e9c94" fill-opacity=".9"/>
<circle cx="297" cy="97" r="7" fill="#7aa85c" fill-opacity=".9"/>
<circle cx="235" cy="85" r="4" fill="#7aa85c" fill-opacity=".9"/>
<circle cx="148" cy="175" r="7" fill="#7aa85c" stroke="#d8c84a" stroke-width="1.5"/>
<circle cx="213" cy="120" r="4" fill="#6aa36a"/>
<circle cx="337" cy="188" r="5" fill="#7aa85c"/>
<circle cx="303" cy="220" r="3" fill="#7aa85c"/>
<circle cx="182" cy="236" r="4" fill="#6aa36a"/>
<circle cx="73" cy="18" r="3" fill="#7aa85c"/>
<rect x="1" y="1" width="404" height="249" fill="none" stroke="#d9d9d9" stroke-width="2"/>
</svg>

<!-- card titles -->
<div class="a tt" style="left:429px;top:586px">Content Performance</div>
<div class="a tt" style="left:873px;top:586px">Email Performance Overview</div>
<div class="a tt" style="left:1315px;top:586px">Google Analytics</div>
<div class="a tt" style="left:429px;top:964px">Historic Trends</div>
<div class="a tt" style="left:873px;top:964px">Performance by Week</div>
<div class="a tt" style="left:1315px;top:964px">Renewals by Region</div>

<svg class="a" style="left:741px;top:586px" width="24" height="24"><polygon points="12,2 14.9,8.5 21.8,9.2 16.6,13.9 18.1,20.8 12,17.2 5.9,20.8 7.4,13.9 2.2,9.2 9.1,8.5" fill="#555"/></svg>
<svg class="a" style="left:1185px;top:586px" width="24" height="24"><polygon points="12,2.5 14.8,8.6 21.5,9.3 16.5,13.8 17.9,20.5 12,17.1 6.1,20.5 7.5,13.8 2.5,9.3 9.2,8.6" fill="none" stroke="#555" stroke-width="1.4"/></svg>
<svg class="a" style="left:1627px;top:586px" width="24" height="24"><polygon points="12,2 14.9,8.5 21.8,9.2 16.6,13.9 18.1,20.8 12,17.2 5.9,20.8 7.4,13.9 2.2,9.2 9.1,8.5" fill="#555"/></svg>
<svg class="a" style="left:741px;top:963px" width="24" height="24"><polygon points="12,2.5 14.8,8.6 21.5,9.3 16.5,13.8 17.9,20.5 12,17.1 6.1,20.5 7.5,13.8 2.5,9.3 9.2,8.6" fill="none" stroke="#555" stroke-width="1.4"/></svg>
<svg class="a" style="left:1185px;top:963px" width="24" height="24"><polygon points="12,2.5 14.8,8.6 21.5,9.3 16.5,13.8 17.9,20.5 12,17.1 6.1,20.5 7.5,13.8 2.5,9.3 9.2,8.6" fill="none" stroke="#555" stroke-width="1.4"/></svg>
<svg class="a" style="left:1627px;top:963px" width="24" height="24"><polygon points="12,2.5 14.8,8.6 21.5,9.3 16.5,13.8 17.9,20.5 12,17.1 6.1,20.5 7.5,13.8 2.5,9.3 9.2,8.6" fill="none" stroke="#555" stroke-width="1.4"/></svg>

<svg class="a" style="left:780px;top:590px" width="24" height="12"><circle cx="4" cy="6" r="2" fill="#555"/><circle cx="11" cy="6" r="2" fill="#555"/><circle cx="18" cy="6" r="2" fill="#555"/></svg>
<svg class="a" style="left:1224px;top:590px" width="24" height="12"><circle cx="4" cy="6" r="2" fill="#555"/><circle cx="11" cy="6" r="2" fill="#555"/><circle cx="18" cy="6" r="2" fill="#555"/></svg>
<svg class="a" style="left:1666px;top:590px" width="24" height="12"><circle cx="4" cy="6" r="2" fill="#555"/><circle cx="11" cy="6" r="2" fill="#555"/><circle cx="18" cy="6" r="2" fill="#555"/></svg>
<svg class="a" style="left:780px;top:967px" width="24" height="12"><circle cx="4" cy="6" r="2" fill="#555"/><circle cx="11" cy="6" r="2" fill="#555"/><circle cx="18" cy="6" r="2" fill="#555"/></svg>
<svg class="a" style="left:1224px;top:967px" width="24" height="12"><circle cx="4" cy="6" r="2" fill="#555"/><circle cx="11" cy="6" r="2" fill="#555"/><circle cx="18" cy="6" r="2" fill="#555"/></svg>
<svg class="a" style="left:1666px;top:967px" width="24" height="12"><circle cx="4" cy="6" r="2" fill="#555"/><circle cx="11" cy="6" r="2" fill="#555"/><circle cx="18" cy="6" r="2" fill="#555"/></svg>
</body></html>
